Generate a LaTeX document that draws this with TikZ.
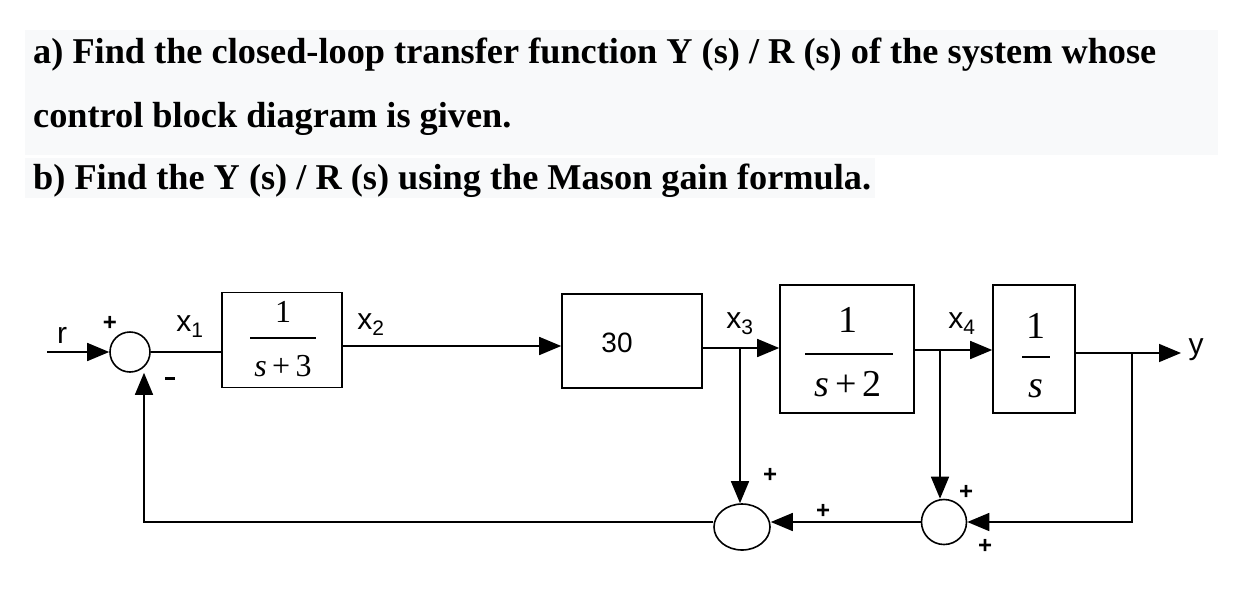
\documentclass[tikz,border=0pt]{standalone}
\usepackage{fontspec}
\setmainfont{Liberation Serif}
\setsansfont{Liberation Sans}
\usetikzlibrary{arrows.meta,shapes.geometric}
\begin{document}
\begin{tikzpicture}[x=1pt,y=-1pt,
  ln/.style={line width=1.6pt},
  ar/.style={ln,-{Triangle[length=22pt,width=18pt]}},
  blk/.style={draw,line width=1.6pt,inner sep=0pt},
  lbl/.style={font=\sffamily\fontsize{30}{30}\selectfont},
  pl/.style={font=\sffamily\bfseries\fontsize{24}{24}\selectfont},
  hd/.style={font=\bfseries\fontsize{36.3}{36}\selectfont,anchor=base west,inner sep=0pt},
  fr/.style={font=\fontsize{32}{32}\selectfont}]
\useasboundingbox (0,0) rectangle (1233,595);
\fill[fill={rgb,255:red,248;green,249;blue,250}] (25,30) rectangle (1218,155);
\fill[fill={rgb,255:red,248;green,249;blue,250}] (25,158) rectangle (875,198);
\node[hd] (ha) at (33,63) {a) Find the closed-loop transfer function Y (s) / R (s) of the system whose};
\node[hd] (hb) at (33,127) {control block diagram is given.};
\node[hd] (hc) at (33,189) {b) Find the Y (s) / R (s) using the Mason gain formula.};
% summing junctions
\node[draw,circle,ln,minimum size=40pt,inner sep=0pt] (s1) at (130,352) {};
\node[draw,ellipse,ln,minimum width=56pt,minimum height=46pt,inner sep=0pt] (s3) at (742,527) {};
\node[draw,circle,ln,minimum size=45pt,inner sep=0pt] (s4) at (944,522) {};
% blocks
\node[blk,minimum width=120pt,minimum height=95pt] (b1) at (282,340) {};
\node[blk,minimum width=140pt,minimum height=94pt] (b2) at (632,341) {};
\node[blk,minimum width=134pt,minimum height=128pt] (b3) at (847,349) {};
\node[blk,minimum width=82pt,minimum height=128pt] (b4) at (1034,349) {};
% block contents
\node[fr] (n1) at (283,312) {1};
\draw[line width=1.2pt] (250,338) -- (316,338);
\node[fr] (d1) at (283,366) {\textit{s}\,+\,3};
\node[font=\sffamily\fontsize{28}{28}\selectfont] (t30) at (617,343) {30};
\node[font=\fontsize{38}{38}\selectfont] (n3) at (848,320) {1};
\draw[line width=1.2pt] (805,354) -- (893,354);
\node[font=\fontsize{38}{38}\selectfont] (d3) at (848,384) {\textit{s}\,+\,2};
\node[font=\fontsize{38}{38}\selectfont] (n4) at (1036,326) {1};
\draw[line width=1.2pt] (1022,357) -- (1050,357);
\node[font=\fontsize{38}{38}\selectfont] (d4) at (1036,389) {\textit{s}};
% coordinates
\coordinate (rin) at (47,352);
\coordinate (p3) at (740,348);
\coordinate (p4) at (940,350);
\coordinate (p5) at (1132,353);
\coordinate (yout) at (1181,353);
\coordinate (c5) at (1132,522);
\coordinate (c1) at (144,522);
% connectors
\draw[ar] (rin) -- (s1.west);
\draw[ln] (s1.east) -- (b1.west |- s1.east);
\draw[ar] (b1.east |- 0,346) -- (b2.west |- 0,346);
\draw[ar] (b2.east |- p3) -- (b3.west |- p3);
\draw[ar] (b3.east |- p4) -- (b4.west |- p4);
\draw[ar] (b4.east |- p5) -- (yout);
\draw[ar] (p3) -- (s3.north -| p3);
\draw[ar] (p4) -- (s4.north -| p4);
\draw[ar] (p5) -- (c5) -- (s4.east);
\draw[ar] (s4.west) -- (s3.east |- s4.west);
\draw[ar] (s3.west |- c1) -- (c1) -- (s1.south -| c1);
% labels
\node[lbl] (lr) at (62,335) {r};
\node[lbl] (lx1) at (190,327) {x\textsubscript{1}};
\node[lbl] (lx2) at (371,325) {x\textsubscript{2}};
\node[lbl] (lx3) at (740,324) {x\textsubscript{3}};
\node[lbl] (lx4) at (962,324) {x\textsubscript{4}};
\node[lbl] (ly) at (1196,350) {y};
\node[pl] (q1) at (110,323) {+};
\node[pl] (q2) at (170,380) {\rule[3pt]{10pt}{2.2pt}};
\node[pl] (q3) at (770,475) {+};
\node[pl] (q4) at (823,511) {+};
\node[pl] (q5) at (966,492) {+};
\node[pl] (q6) at (985,546) {+};
\end{tikzpicture}
\end{document}
